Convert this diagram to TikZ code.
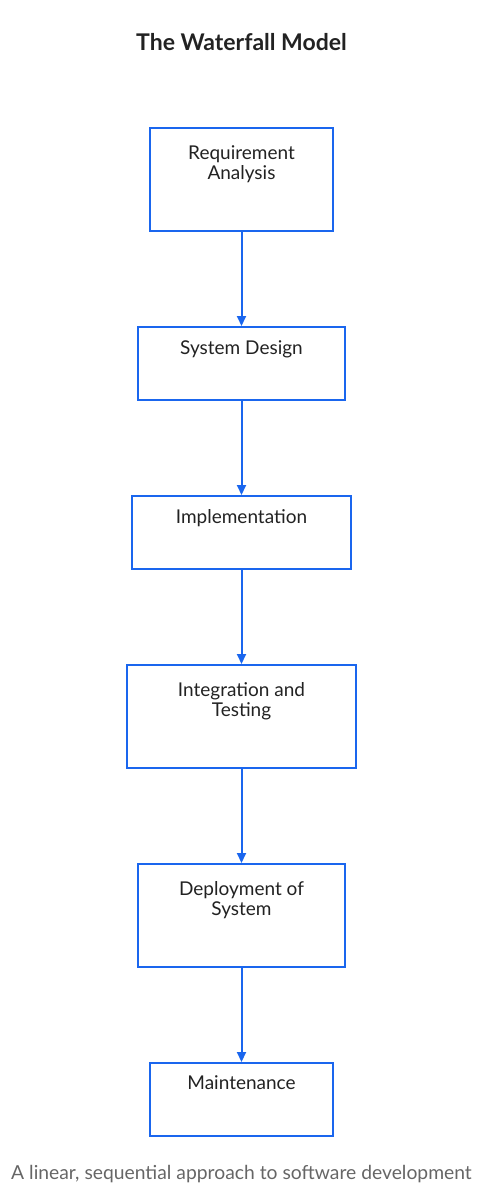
\documentclass[tikz,border=0pt]{standalone}
\usepackage{fontspec}
\setmainfont{Lato}
\usetikzlibrary{positioning, arrows.meta}

\definecolor{wfblue}{HTML}{1A66EE}
\definecolor{wfdark}{HTML}{222222}
\definecolor{wfgray}{HTML}{666666}

\begin{document}
\begin{tikzpicture}[
		x=1pt, y=1pt,
		stage/.style={rectangle, draw=wfblue, line width=2pt, inner sep=0pt},
		stagetext/.style={align=center, inner sep=0pt, font=\fontsize{19}{20.5}\selectfont, text=wfdark},
		flow/.style={-{Triangle[length=10pt, width=9pt]}, wfblue, line width=2pt},
		>=LaTeX
	]
	\useasboundingbox (0,0) rectangle (483,-1200);

	\node[font=\fontsize{23}{27}\bfseries, text=wfdark] (title) at (241.5,-42) {The Waterfall Model};

	\node[stage, minimum width=183pt, minimum height=103pt] (req) at (241.5,-179.5) {};
	\node[stage, minimum width=207pt, minimum height=73pt] (design) at (241.5,-363.5) {};
	\node[stage, minimum width=219pt, minimum height=73pt] (impl) at (241.5,-532.5) {};
	\node[stage, minimum width=229pt, minimum height=103pt] (test) at (241.5,-716.5) {};
	\node[stage, minimum width=207pt, minimum height=103pt] (deploy) at (241.5,-915.5) {};
	\node[stage, minimum width=183pt, minimum height=73pt] (maint) at (241.5,-1099.5) {};

	\node[stagetext, below=18pt of req.north] (reqt) {Requirement\\Analysis};
	\node[stagetext, below=14pt of design.north] (designt) {System Design};
	\node[stagetext, below=14pt of impl.north] (implt) {Implementation};
	\node[stagetext, below=18pt of test.north] (testt) {Integration and\\Testing};
	\node[stagetext, below=18pt of deploy.north] (deployt) {Deployment of\\System};
	\node[stagetext, below=13pt of maint.north] (maintt) {Maintenance};

	\node[font=\fontsize{19.3}{23}\selectfont, text=wfgray] (caption) at (241.5,-1174) {A linear, sequential approach to software development};

	\foreach \i/\j in {req/design, design/impl, impl/test, test/deploy, deploy/maint}
		\draw[flow] (\i.south) -- (\j.north);

	\end{tikzpicture}
\end{document}
